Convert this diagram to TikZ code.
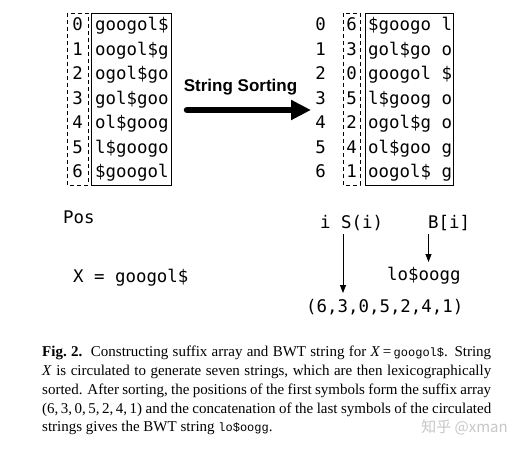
\documentclass[tikz,border=0pt]{standalone}
\usepackage{fontspec}
\setmainfont{Liberation Serif}
\setsansfont{Liberation Sans}
\setmonofont{DejaVu Sans Mono}
\newfontfamily\capmono[Scale=0.8]{Liberation Mono}
\newfontfamily\cjkfont{Noto Sans CJK SC}
\usetikzlibrary{arrows.meta}
\begin{document}
\begin{tikzpicture}[x=1pt,y=-1pt,
  mono/.style={font=\fontsize{17.4}{20}\ttfamily\selectfont, inner sep=0pt},
  dashbox/.style={draw, line width=0.8pt, dash pattern=on 4pt off 3pt},
  solidbox/.style={draw, line width=0.8pt},
  bigarrow/.style={line width=6.5pt, -{Triangle[length=20pt,width=19pt]}},
  thinarrow/.style={line width=0.8pt, -{Triangle[length=8pt,width=6pt]}},
  lbl/.style={font=\fontsize{17}{20}\sffamily\bfseries\selectfont, inner sep=0pt},
  capt/.style={anchor=north west, text width=449pt, inner sep=0pt, align=justify,
    font=\fontsize{15}{18.8}\selectfont},
  wmark/.style={font=\cjkfont\fontsize{15}{17}\selectfont, text=black!22, inner sep=0pt, anchor=base east}]
\useasboundingbox (0,0) rectangle (522,449);
\fill[white] (0,0) rectangle (522,449);

% left table
\draw[dashbox] (67,13) rectangle (88,185);
\draw[solidbox] (91,13) rectangle (171,185);
\foreach \i/\s in {0/googol\$,1/oogol\$g,2/ogol\$go,3/gol\$goo,4/ol\$goog,5/l\$googo,6/\$googol}{
  \node[mono, anchor=base] (ld\i) at (77.5,{31+24.5*\i}) {\i};
  \node[mono, anchor=base west] (ls\i) at (95,{31+24.5*\i}) {\s};
}

% arrow
\node[lbl, anchor=base] (lab) at (240.5,91.5) {String Sorting};
\coordinate (a1) at (187,110);
\coordinate (a2) at (311,110);
\draw[bigarrow, line cap=round] (a1) -- (a2);

% right table
\draw[dashbox] (343,13) rectangle (360,185);
\draw[solidbox] (365,13) rectangle (453,185);
\foreach \i/\p/\s in {0/6/\$googo l,1/3/gol\$go o,2/0/googol \$,3/5/l\$goog o,4/2/ogol\$g o,5/4/ol\$goo g,6/1/oogol\$ g}{
  \node[mono, anchor=base] (ri\i) at (320.5,{31+24.5*\i}) {\i};
  \node[mono, anchor=base] (rp\i) at (351.5,{31+24.5*\i}) {\p};
  \node[mono, anchor=base west] (rs\i) at (368,{31+24.5*\i}) {\s};
}

% bottom labels
\node[mono, anchor=base west] (pos) at (63,223) {Pos};
\node[mono, anchor=base west] (xdef) at (73,282) {X = googol\$};
\node[mono, anchor=base west] (isi) at (320,229) {i S(i)};
\node[mono, anchor=base west] (bi) at (428,229) {B[i]};
\node[mono, anchor=base west] (bwt) at (387,280.5) {lo\$oogg};
\node[mono, anchor=base west] (sa) at (306,312.5) {(6,3,0,5,2,4,1)};

\coordinate (s1) at (343,234);
\coordinate (s2) at (343,293);
\coordinate (b1) at (428.5,234);
\coordinate (b2) at (428.5,262);
\draw[thinarrow] (s1) -- (s2);
\draw[thinarrow] (b1) -- (b2);

% caption
\node[capt] (cap) at (42,346) {\textbf{Fig.~2.}\ \ Constructing suffix array and BWT string for \textit{X}\,=\,{\capmono googol\$}. String\linebreak
\textit{X} is circulated to generate seven strings, which are then lexicographically\linebreak
sorted. After sorting, the positions of the first symbols form the suffix array\linebreak
(6,\,3,\,0,\,5,\,2,\,4,\,1) and the concatenation of the last symbols of the circulated\linebreak
strings gives the BWT string {\capmono lo\$oogg}.};

\node[wmark] (wm) at (508,432) {知乎 @xman};
\end{tikzpicture}
\end{document}
